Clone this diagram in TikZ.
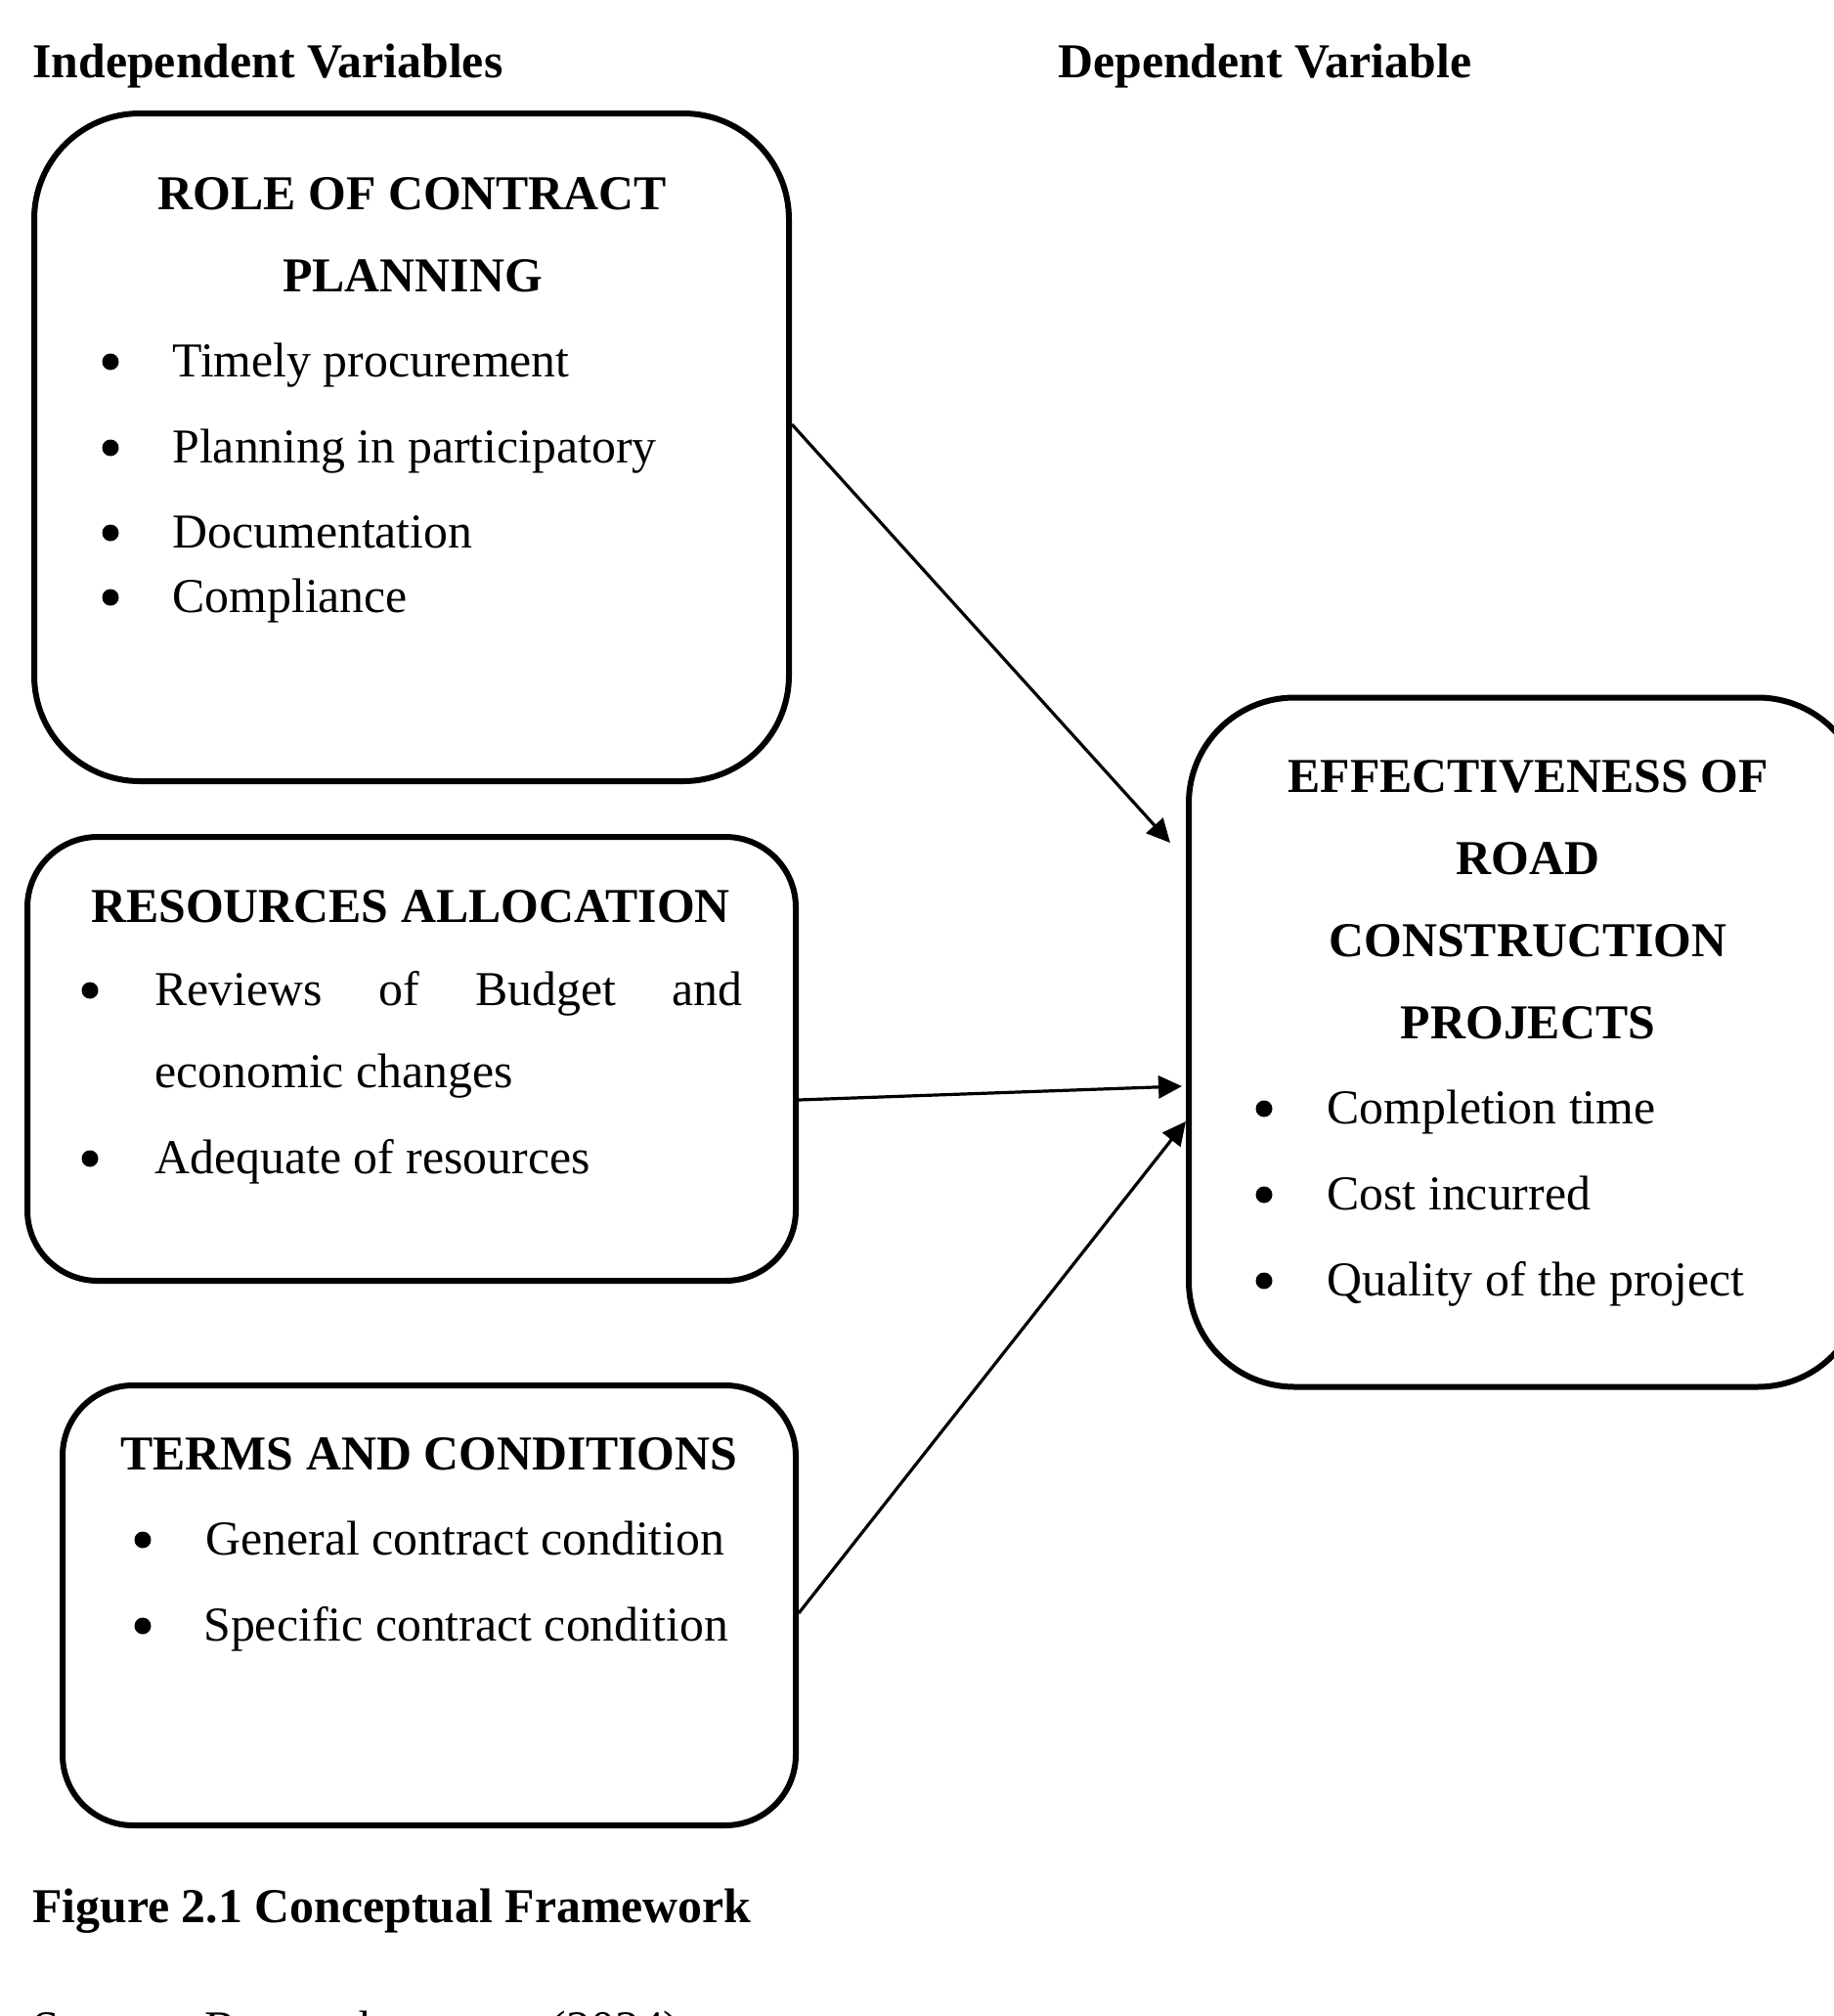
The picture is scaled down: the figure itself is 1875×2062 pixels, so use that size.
\documentclass[tikz,border=0pt]{standalone}
\usepackage{fontspec}
\setmainfont{Liberation Serif}
\usetikzlibrary{arrows.meta}
\begin{document}
\begin{tikzpicture}[x=0.5pt,y=-0.5pt,
  every node/.style={inner sep=0pt, font=\fontsize{24.9}{30}\selectfont},
  box/.style={draw, line width=3pt, rounded corners=#1, inner sep=0pt},
  txt/.style={anchor=base west},
  bul/.style={circle, fill=black, minimum size=8.5pt},
  hdr/.style={anchor=base, font=\fontsize{24.9}{30}\selectfont\bfseries},
  lbl/.style={anchor=base west, font=\fontsize{24.9}{30}\selectfont\bfseries},
  arr/.style={-{Triangle[length=12pt,width=11.5pt]}, line width=1.6pt}]
\useasboundingbox (0,0) rectangle (1875,2062);

% titles
\node[lbl] (tind) at (33,79) {Independent Variables};
\node[lbl] (tdep) at (1082,79) {Dependent Variable};

% boxes
\node[box=54pt, minimum width=386pt, minimum height=341.5pt] (b1) at (421,457.5) {};
\node[box=36pt, minimum width=393pt, minimum height=227pt] (b2) at (421,1083) {};
\node[box=36pt, minimum width=375pt, minimum height=225pt] (b3) at (439,1642) {};
\node[box=54pt, minimum width=345pt, minimum height=352.5pt] (b4) at (1561,1066) {};

% box 1
\node[hdr] (h1a) at (422,214) {ROLE OF CONTRACT};
\node[hdr] (h1b) at (422,298) {PLANNING};
\node[bul] (p1) at (113,370) {};
\node[txt] (t1) at (176,385) {Timely procurement};
\node[bul] (p2) at (113,458) {};
\node[txt] (t2) at (176,473) {Planning in participatory};
\node[bul] (p3) at (113,545) {};
\node[txt] (t3) at (176,560) {Documentation};
\node[bul] (p4) at (113,611) {};
\node[txt] (t4) at (176,626) {Compliance};

% box 2
\node[hdr] (h2) at (420,943) {RESOURCES ALLOCATION};
\node[bul] (q1) at (92,1013) {};
\node[txt] (u1) at (158,1028) {\makebox[300.5pt][s]{Reviews\hfill of\hfill Budget\hfill and}};
\node[txt] (u1b) at (158,1112) {economic changes};
\node[bul] (q2) at (92,1185) {};
\node[txt] (u2) at (158,1200) {Adequate of resources};

% box 3
\node[hdr] (h3) at (439,1503) {TERMS AND CONDITIONS};
\node[bul] (r1) at (146,1575) {};
\node[txt] (v1) at (210,1590) {General contract condition};
\node[bul] (r2) at (146,1663) {};
\node[txt] (v2) at (208,1678) {Specific contract condition};

% box 4
\node[hdr] (h4a) at (1563,810) {EFFECTIVENESS OF};
\node[hdr] (h4b) at (1563,894) {ROAD};
\node[hdr] (h4c) at (1563,978) {CONSTRUCTION};
\node[hdr] (h4d) at (1563,1062) {PROJECTS};
\node[bul] (s1) at (1293,1134) {};
\node[txt] (w1) at (1357,1149) {Completion time};
\node[bul] (s2) at (1293,1222) {};
\node[txt] (w2) at (1357,1237) {Cost incurred};
\node[bul] (s3) at (1293,1310) {};
\node[txt] (w3) at (1357,1325) {Quality of the project};

% arrows
\draw[arr] ([yshift=11.75pt]b1.east) -- ([xshift=-8pt,yshift=102pt]b4.west);
\draw[arr] ([yshift=-21pt]b2.east) -- ([xshift=-2pt,yshift=-22.5pt]b4.west);
\draw[arr] ([yshift=-4pt]b3.east) -- ([yshift=-40.5pt]b4.west);

% caption
\node[lbl] (cap) at (33,1966) {Figure 2.1 Conceptual Framework};
\node[txt] (src) at (33,2091) {Source:\hspace{12pt}Researcher\hspace{66pt}(2024)};
\end{tikzpicture}
\end{document}
